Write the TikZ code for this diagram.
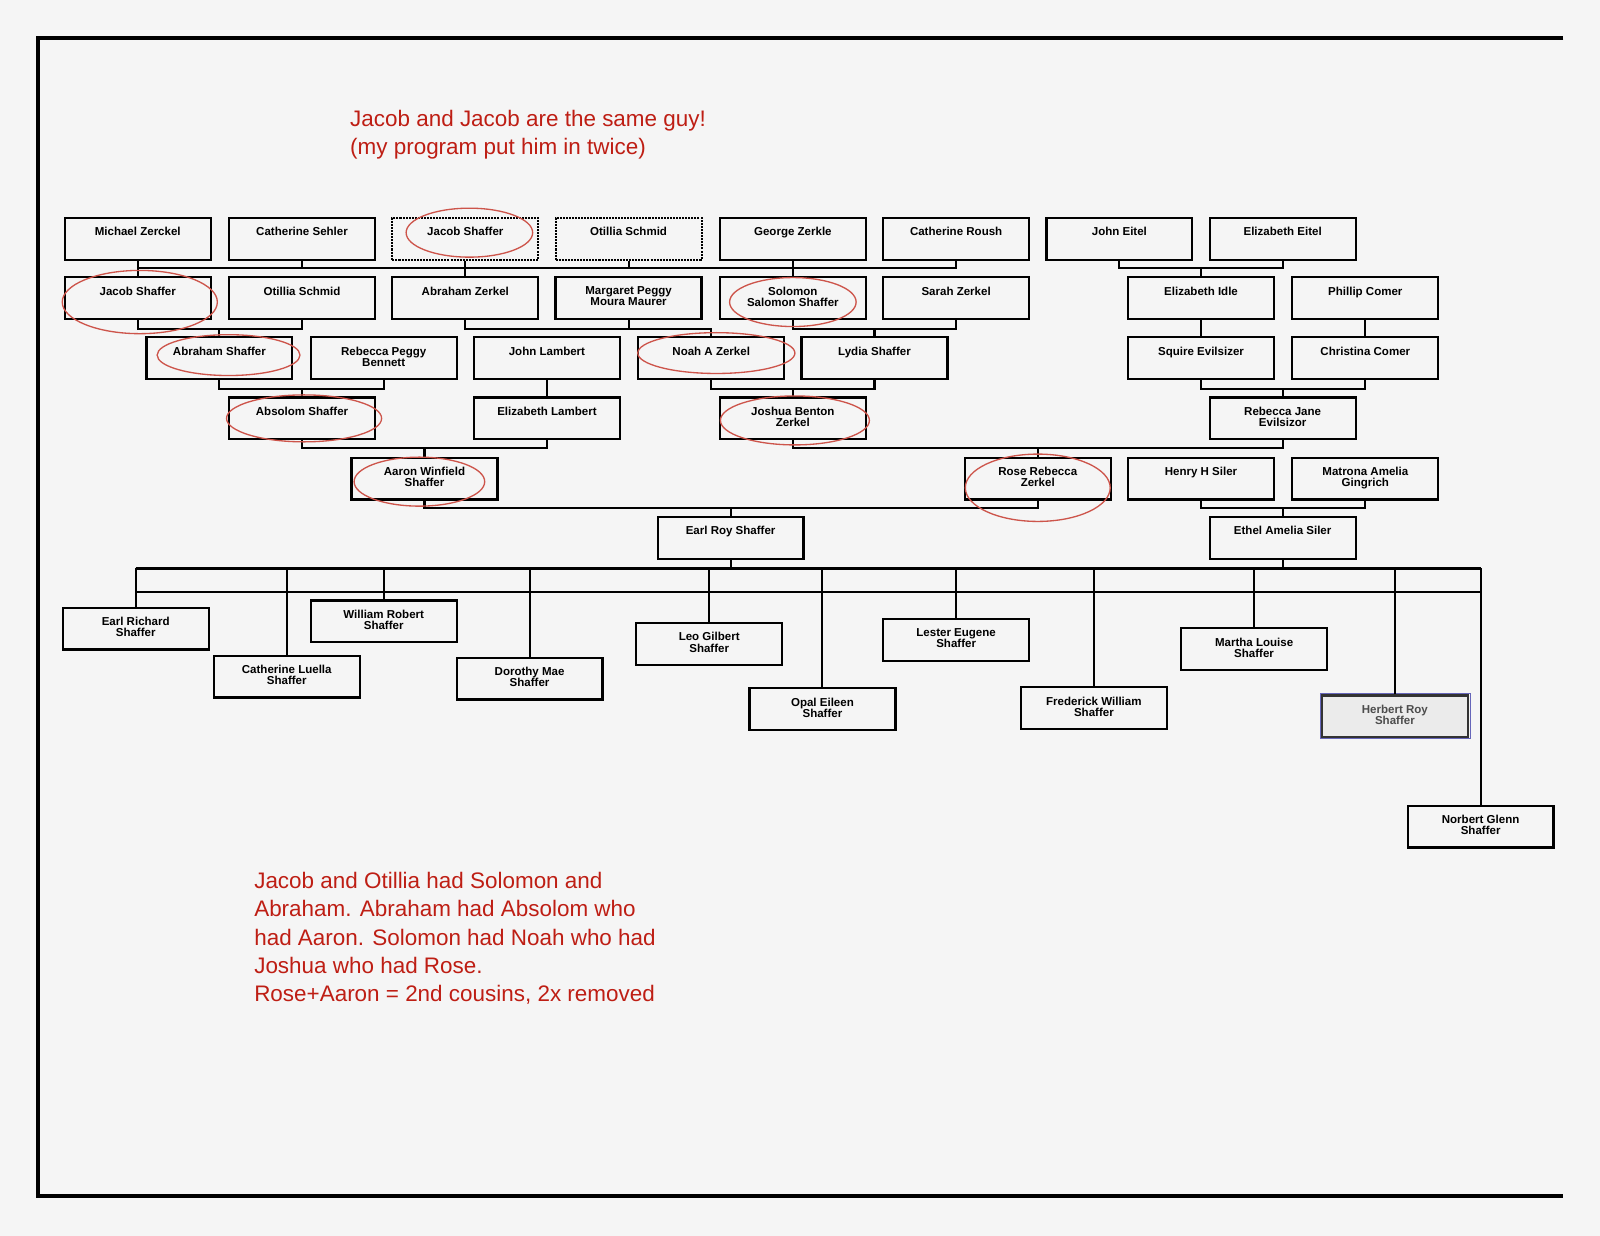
\documentclass[tikz,border=0pt]{standalone}
\usepackage{fontspec}
\setmainfont{Liberation Sans}
\definecolor{rednote}{RGB}{190,30,20}
\definecolor{ovalred}{RGB}{205,85,75}
\definecolor{bg}{RGB}{245,245,245}
\begin{document}
\begin{tikzpicture}[x=1pt,y=-1pt,
  bfont/.style={font=\fontsize{11.3}{11}\selectfont\bfseries},
  pbox/.style={draw,line width=2.2pt,minimum width=143pt,minimum height=41pt,inner sep=0pt,
     label={[anchor=north,yshift=-7pt,align=center,bfont]north:#1}},
  dbox/.style={draw,densely dotted,line width=2pt,minimum width=143pt,minimum height=41pt,inner sep=0pt,
     label={[anchor=north,yshift=-7pt,align=center,bfont]north:#1}},
  conn/.style={line width=2pt},
  oval/.style={draw=ovalred,line width=1.3pt},
  note/.style={text=rednote,font=\fontsize{22}{27.5}\selectfont,align=left,anchor=north west,inner sep=0pt}]
\fill[bg] (0,0) rectangle (1568,1211);
\useasboundingbox (0,0) rectangle (1568,1211);
\draw[line width=3.5pt] (1532,37) -- (37,37) -- (37,1172) -- (1532,1172);
% row 1
\node[pbox=Michael Zerckel] (a1) at (135,234) {};
\node[pbox=Catherine Sehler] (a2) at (296,234) {};
\node[dbox=Jacob Shaffer] (a3) at (456,234) {};
\node[dbox=Otillia Schmid] (a4) at (616,234) {};
\node[pbox=George Zerkle] (a5) at (777,234) {};
\node[pbox=Catherine Roush] (a6) at (937,234) {};
\node[pbox=John Eitel] (a7) at (1097,234) {};
\node[pbox=Elizabeth Eitel] (a8) at (1257,234) {};
% row 2
\node[pbox=Jacob Shaffer] (b1) at (135,292) {};
\node[pbox=Otillia Schmid] (b2) at (296,292) {};
\node[pbox=Abraham Zerkel] (b3) at (456,292) {};
\node[pbox={Margaret Peggy\\Moura Maurer}] (b4) at (616,292) {};
\node[pbox={Solomon\\Salomon Shaffer}] (b5) at (777,292) {};
\node[pbox=Sarah Zerkel] (b6) at (937,292) {};
\node[pbox=Elizabeth Idle] (b7) at (1177,292) {};
\node[pbox=Phillip Comer] (b8) at (1338,292) {};
% row 3
\node[pbox=Abraham Shaffer] (c1) at (215,351) {};
\node[pbox={Rebecca Peggy\\Bennett}] (c2) at (376,351) {};
\node[pbox=John Lambert] (c3) at (536,351) {};
\node[pbox=Noah A Zerkel] (c4) at (697,351) {};
\node[pbox=Lydia Shaffer] (c5) at (857,351) {};
\node[pbox=Squire Evilsizer] (c6) at (1177,351) {};
\node[pbox=Christina Comer] (c7) at (1338,351) {};
% row 4
\node[pbox=Absolom Shaffer] (d1) at (296,410) {};
\node[pbox=Elizabeth Lambert] (d2) at (536,410) {};
\node[pbox={Joshua Benton\\Zerkel}] (d3) at (777,410) {};
\node[pbox={Rebecca Jane\\Evilsizor}] (d4) at (1257,410) {};
% row 5
\node[pbox={Aaron Winfield\\Shaffer}] (e1) at (416,469) {};
\node[pbox={Rose Rebecca\\Zerkel}] (e2) at (1017,469) {};
\node[pbox=Henry H Siler] (e3) at (1177,469) {};
\node[pbox={Matrona Amelia\\Gingrich}] (e4) at (1338,469) {};
% row 6
\node[pbox=Earl Roy Shaffer] (f1) at (716,527) {};
\node[pbox=Ethel Amelia Siler] (f2) at (1257,527) {};
% children
\node[pbox={Earl Richard\\Shaffer}] (g1) at (133,616) {};
\node[pbox={Catherine Luella\\Shaffer}] (g2) at (281,663) {};
\node[pbox={William Robert\\Shaffer}] (g3) at (376,609) {};
\node[pbox={Dorothy Mae\\Shaffer}] (g4) at (519,665) {};
\node[pbox={Leo Gilbert\\Shaffer}] (g5) at (695,631) {};
\node[pbox={Opal Eileen\\Shaffer}] (g6) at (806,695) {};
\node[pbox={Lester Eugene\\Shaffer}] (g7) at (937,627) {};
\node[pbox={Frederick William\\Shaffer}] (g8) at (1072,694) {};
\node[pbox={Martha Louise\\Shaffer}] (g9) at (1229,636) {};
\node[draw=black!80,line width=2.2pt,fill=black!8,minimum width=143pt,minimum height=41pt,inner sep=0pt,
  label={[anchor=north,yshift=-7pt,align=center,text=black!70,bfont]north:Herbert Roy\\Shaffer}] (g10) at (1367,702) {};
\draw[draw=black!45!blue!60,line width=1pt] (1294,680) rectangle (1441,724);
\node[pbox={Norbert Glenn\\Shaffer}] (g11) at (1451,810) {};
% connectors row1->row2
\draw[conn] (a1.south) |- (a6.south |- 0,263) -- (a6.south);
\draw[conn] (a2.south) -- (a2.south |- 0,263);
\draw[conn] (a3.south) -- (b3.north);
\draw[conn] (a4.south) -- (a4.south |- 0,263);
\draw[conn] (a5.south) -- (b5.north);
\draw[conn] (a1.south) -- (b1.north);
\draw[conn] (a7.south) |- (a8.south |- 0,263) -- (a8.south);
\draw[conn] (b7.north) -- (b7.north |- 0,263);
% row2->row3
\draw[conn] (b1.south) |- (b2.south |- 0,322) -- (b2.south);
\draw[conn] (c1.north) -- (c1.north |- 0,322);
\draw[conn] (b3.south) |- (c4.north |- 0,322) -- (c4.north);
\draw[conn] (b4.south) -- (b4.south |- 0,322);
\draw[conn] (b5.south) |- (b6.south |- 0,322) -- (b6.south);
\draw[conn] (c5.north) -- (c5.north |- 0,322);
\draw[conn] (b7.south) -- (c6.north);
\draw[conn] (b8.south) -- (c7.north);
% row3->row4
\draw[conn] (c1.south) |- (c2.south |- 0,381) -- (c2.south);
\draw[conn] (d1.north) -- (d1.north |- 0,381);
\draw[conn] (c3.south) -- (d2.north);
\draw[conn] (c4.south) |- (c5.south |- 0,381) -- (c5.south);
\draw[conn] (d3.north) -- (d3.north |- 0,381);
\draw[conn] (c6.south) |- (c7.south |- 0,381) -- (c7.south);
\draw[conn] (d4.north) -- (d4.north |- 0,381);
% row4->row5
\draw[conn] (d1.south) |- (d2.south |- 0,439) -- (d2.south);
\draw[conn] (e1.north) -- (e1.north |- 0,439);
\draw[conn] (d3.south) |- (d4.south |- 0,439) -- (d4.south);
\draw[conn] (e2.north) -- (e2.north |- 0,439);
% row5->row6
\draw[conn] (e1.south) |- (e2.south |- 0,498) -- (e2.south);
\draw[conn] (f1.north) -- (f1.north |- 0,498);
\draw[conn] (e3.south) |- (e4.south |- 0,498) -- (e4.south);
\draw[conn] (f2.north) -- (f2.north |- 0,498);
% children bus
\coordinate (busL) at (133,557);
\coordinate (busR) at (1451,557);
\draw[line width=2.6pt] (busL) -- (busR);
\draw[line width=2pt] (133,580) -- (1451,580);
\draw[conn] (f1.south) -- (f1.south |- busL);
\draw[conn] (f2.south) -- (f2.south |- busL);
\foreach \c in {g1,g2,g3,g4,g5,g6,g7,g8,g9,g10,g11}
  \draw[conn] (\c.north) -- (\c.north |- busL);
% ovals
\draw[oval] (460,228) ellipse (62 and 24);
\draw[oval] (137,296) ellipse (76 and 31);
\draw[oval] (224,348) ellipse (70 and 20);
\draw[oval] (298,410) ellipse (76 and 23);
\draw[oval] (411,472) ellipse (64 and 24);
\draw[oval] (777,296) ellipse (62 and 24);
\draw[oval] (702,346) ellipse (77 and 20);
\draw[oval] (779,412) ellipse (73 and 24);
\draw[oval] (1017,478) ellipse (71 and 33);
% notes
\node[note] (n1) at (343,108) {Jacob and Jacob are the same guy!\\(my program put him in twice)};
\node[note] (n2) at (249,855) {Jacob and Otillia had Solomon and\\Abraham. Abraham had Absolom who\\had Aaron. Solomon had Noah who had\\Joshua who had Rose.\\Rose+Aaron = 2nd cousins, 2x removed};
\end{tikzpicture}
\end{document}
